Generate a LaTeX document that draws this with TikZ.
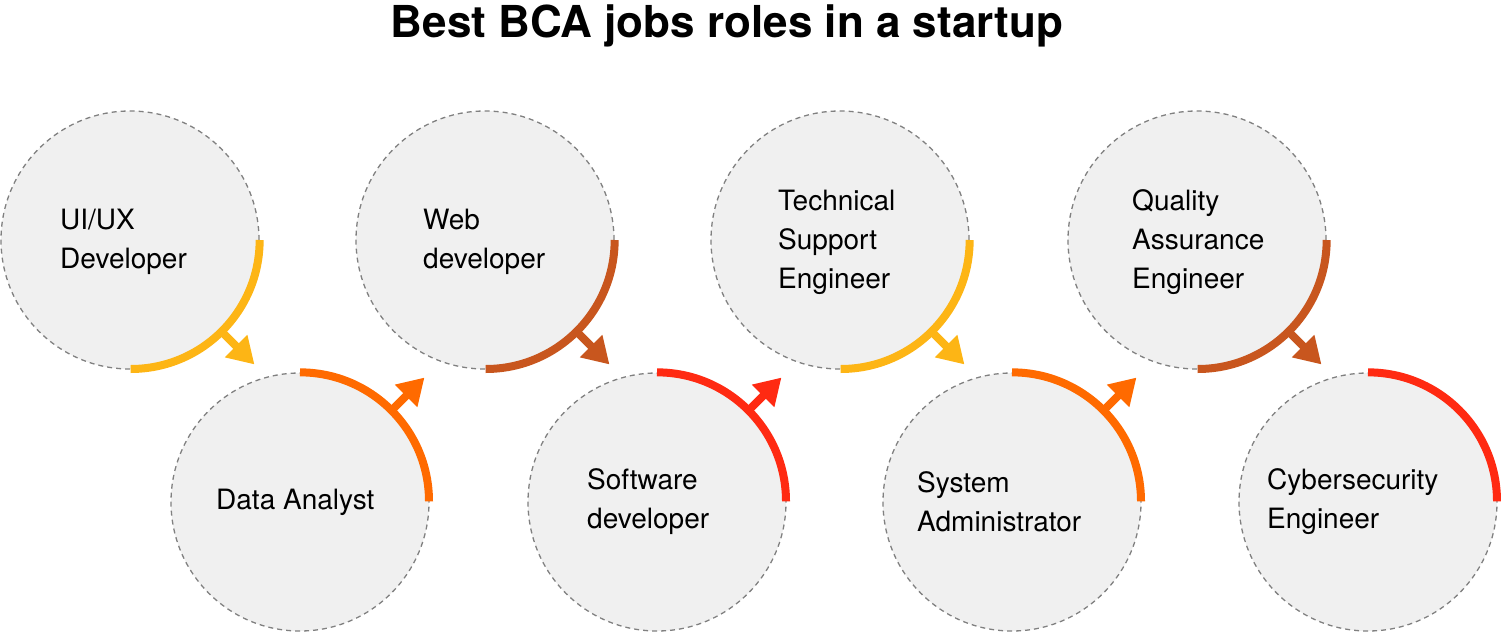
\documentclass[tikz,border=0pt]{standalone}
\usepackage{fontspec}
\setmainfont{TeX Gyre Heros}
\usetikzlibrary{arrows.meta}
\definecolor{cyel}{HTML}{FDB515}
\definecolor{cora}{HTML}{FF6A00}
\definecolor{cbro}{HTML}{C8561E}
\definecolor{cred}{HTML}{FF2A12}
\begin{document}
\begin{tikzpicture}[x=1pt,y=-1pt,
  role/.style={circle,draw=black!50,dashed,dash pattern=on 5pt off 4pt,line width=1.3pt,fill=black!6,minimum size=258pt,inner sep=0pt},
  lbl/.style={anchor=west,align=left,font=\fontsize{28}{39}\selectfont,inner sep=0pt},
  band/.style={line width=8pt},
  tip/.style={line width=8pt,-{Triangle[length=26pt,width=30pt]}}]
\useasboundingbox (0,0) rectangle (1501,634);
\node[font=\bfseries\fontsize{44}{50}\selectfont] (title) at (727,26) {Best BCA jobs roles in a startup};
\foreach \n/\x/\y/\c in {c1/130/240/cyel,c2/300/502/cora,c3/485/240/cbro,c4/657/502/cred,c5/840/240/cyel,c6/1012/502/cora,c7/1197/240/cbro,c8/1368/502/cred}{
  \node[role] (\n) at (\x,\y) {};
}
\foreach \n/\c in {c1/cyel,c3/cbro,c5/cyel,c7/cbro}{
  \draw[band,\c] (\n.east) arc[start angle=0,end angle=-90,radius=129pt];
  \draw[tip,\c] (\n.-45) -- ([shift={(-45:176pt)}]\n.center);
}
\foreach \n/\c in {c2/cora,c4/cred,c6/cora}{
  \draw[band,\c] (\n.north) arc[start angle=90,end angle=0,radius=129pt];
  \draw[tip,\c] (\n.45) -- ([shift={(45:176pt)}]\n.center);
}
\draw[band,cred] (c8.north) arc[start angle=90,end angle=0,radius=129pt];
\node[lbl] (t1) at (60,242) {UI/UX\\Developer};
\node[lbl] (t2) at (216,502) {Data Analyst};
\node[lbl] (t3) at (423,242) {Web\\developer};
\node[lbl] (t4) at (587,502) {Software\\developer};
\node[lbl] (t5) at (778,242) {Technical\\Support\\Engineer};
\node[lbl] (t6) at (917,502) {System\\Administrator};
\node[lbl] (t7) at (1132,242) {Quality\\Assurance\\Engineer};
\node[lbl] (t8) at (1267,502) {Cybersecurity\\Engineer};
\end{tikzpicture}
\end{document}
